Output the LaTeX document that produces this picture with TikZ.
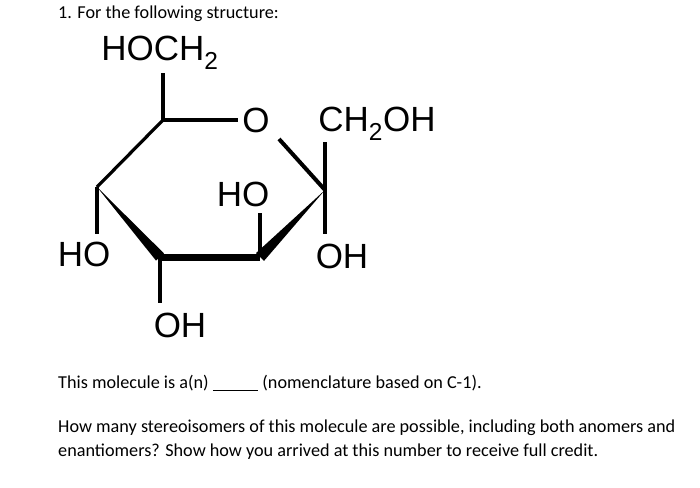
\documentclass[tikz,border=0pt]{standalone}
\usetikzlibrary{calc}
\usepackage{fontspec}
\setmainfont{Carlito}
\newfontfamily\chemf{Liberation Sans}
\begin{document}
\begin{tikzpicture}[x=1pt,y=-1pt,
  lbl/.style={font=\chemf\fontsize{35}{36}\selectfont,inner sep=0pt},
  txt/.style={font=\fontsize{18.2}{20}\selectfont,inner sep=0pt,anchor=west},
  bd/.style={line width=3.2pt},
  wedge/.style={fill=black}]
\useasboundingbox (0,0) rectangle (700,487);
\node[txt] (t1) at (58,14) {1. For the following structure:};
\node[lbl] (hoch) at (160,53) {HOCH\textsubscript{2}};
\node[lbl] (o) at (256,120) {O};
\node[lbl] (ch2oh) at (377,124) {CH\textsubscript{2}OH};
\node[lbl] (ho2) at (243,194) {HO};
\node[lbl] (ho4) at (84,254) {HO};
\node[lbl] (oh1) at (342,256) {OH};
\node[lbl] (oh3) at (180,325) {OH};
\coordinate (c5) at (163,120);
\coordinate (c4) at (97,187);
\coordinate (c3) at (160,257);
\coordinate (c2) at (260,257);
\coordinate (c1) at (325,190);
\coordinate (c5u) at (163,73);
\coordinate (oe) at (238,120);
\coordinate (os) at (279,139);
\coordinate (c1u) at (325,142);
\coordinate (c1d) at (325,234);
\coordinate (c2u) at (260,213);
\coordinate (c3d) at (160,303);
\coordinate (c4d) at (97,234);
\draw[bd] (c5) -- (c5u);
\draw[bd] (c5) -- (oe);
\draw[bd,line width=4pt] (os) -- (c1);
\draw[bd] (c1u) -- (c1d);
\draw[bd] (c5) -- (c4);
\draw[bd] (c4) -- (c4d);
\draw[bd] (c2) -- (c2u);
\draw[bd] (c3) -- (c3d);
\fill[wedge] (c4) -- ($(c3)+(4,-3.6)$) -- ($(c3)+(-4,3.6)$) -- cycle;
\draw[line width=7pt] (c3) -- (c2);
\fill[wedge] (c1) -- ($(c2)+(-4,-3.9)$) -- ($(c2)+(4,3.9)$) -- cycle;
\node[txt] (t2) at (58,383) {This molecule is a(n) \underline{\hspace{2.5em}} (nomenclature based on C-1).};
\node[txt] (t3) at (58,428) {How many stereoisomers of this molecule are possible, including both anomers and};
\node[txt] (t4) at (58,452) {enantiomers? Show how you arrived at this number to receive full credit.};
\end{tikzpicture}
\end{document}
